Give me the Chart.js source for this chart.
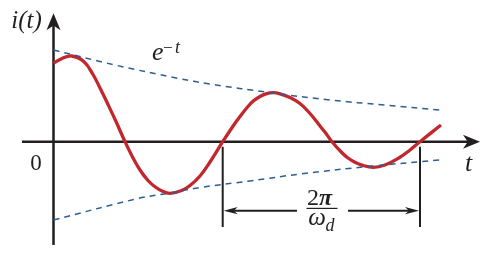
<!DOCTYPE html>
<html>
<head>
<meta charset="utf-8">
<script src="https://cdn.jsdelivr.net/npm/chart.js@4.4.1/dist/chart.umd.min.js"></script>
<style>
    html, body { margin: 0; padding: 0; background: #fff; }
    canvas { display: block; }
</style>
</head>
<body>
<canvas id="chart" width="496" height="265"></canvas>
<script>
// damped response i(t) (t and i in arbitrary units)
const curveT = [0, 0.085, 0.182, 0.305, 0.395, 0.465, 0.545, 0.625, 0.715, 0.785, 0.865, 0.945, 1.015, 1.085, 1.165,
    1.282, 1.365, 1.465, 1.565, 1.692, 1.798, 1.865, 1.932, 1.995, 2.065, 2.125, 2.198,
    2.265, 2.365, 2.465, 2.565, 2.665, 2.725, 2.785, 2.882, 2.945, 3.015, 3.085, 3.198,
    3.315, 3.445, 3.565, 3.665, 3.875];
const curveI = [0.784, 0.832, 0.857, 0.80, 0.672, 0.537, 0.372, 0.202, 0, -0.143, -0.283, -0.388, -0.451, -0.493, -0.516,
    -0.488, -0.438, -0.343, -0.203, 0, 0.16, 0.252, 0.337, 0.404, 0.452, 0.479, 0.49,
    0.479, 0.442, 0.382, 0.282, 0.157, 0.082, 0, -0.108, -0.163, -0.206, -0.235, -0.256,
    -0.233, -0.168, -0.083, 0, 0.167];

// envelopes (dashed)
const upperT = [0, 0.615, 1.245, 1.565, 2.195, 2.765, 3.315, 3.865];
const upperI = [0.917, 0.767, 0.634, 0.577, 0.487, 0.417, 0.367, 0.317];
const lowerT = [0, 0.845, 1.165, 1.465, 1.965, 2.465, 3.195, 3.865];
const lowerI = [-0.783, -0.568, -0.513, -0.458, -0.393, -0.323, -0.243, -0.183];

// period marker: between the 2nd and 4th zero crossings
const periodStart = 1.692;
const periodEnd = 3.665;

const ink = '#231f20';
const red = '#c1272d';
const blue = '#2d5e92';
const serif = '"Liberation Serif", "Times New Roman", serif';

function toPoints(xs, ys) {
    return xs.map((x, i) => ({ x: x, y: ys[i] }));
}

function arrowHead(ctx, tipX, tipY, dx, dy, len, half) {
    // notched arrow head pointing along (dx, dy)
    const nx = -dy, ny = dx;
    const bx = tipX - dx * len, by = tipY - dy * len;
    ctx.beginPath();
    ctx.moveTo(tipX, tipY);
    ctx.lineTo(bx + nx * half, by + ny * half);
    ctx.lineTo(tipX - dx * len * 0.72, tipY - dy * len * 0.72);
    ctx.lineTo(bx - nx * half, by - ny * half);
    ctx.closePath();
    ctx.fill();
}

const overlay = {
    id: 'overlay',
    beforeDatasetsDraw(chart) {
        const ctx = chart.ctx;
        const xs = chart.scales.x, ys = chart.scales.y;
        const px = v => xs.getPixelForValue(v);
        const py = v => ys.getPixelForValue(v);
        ctx.save();
        ctx.strokeStyle = ink;
        ctx.fillStyle = ink;

        // axes
        ctx.lineWidth = 2.5;
        ctx.beginPath();
        ctx.moveTo(px(-0.315), py(0));
        ctx.lineTo(px(4.17), py(0));
        ctx.moveTo(px(0), py(-1.033));
        ctx.lineTo(px(0), py(1.20));
        ctx.stroke();
        arrowHead(ctx, px(4.265), py(0), 1, 0, 17, 7);
        arrowHead(ctx, px(0), py(1.285), 0, -1, 17, 7);

        // period marker
        ctx.lineWidth = 2;
        ctx.beginPath();
        ctx.moveTo(px(periodStart), py(-0.05));
        ctx.lineTo(px(periodStart), py(-0.853));
        ctx.moveTo(px(periodEnd), py(-0.05));
        ctx.lineTo(px(periodEnd), py(-0.853));
        ctx.stroke();

        const ay = py(-0.69);
        ctx.beginPath();
        ctx.moveTo(px(periodStart) + 8, ay);
        ctx.lineTo(px(2.435), ay);
        ctx.moveTo(px(2.945), ay);
        ctx.lineTo(px(periodEnd) - 8, ay);
        ctx.stroke();
        arrowHead(ctx, px(periodStart) + 1, ay, -1, 0, 14, 3.6);
        arrowHead(ctx, px(periodEnd) - 1, ay, 1, 0, 14, 3.6);
        ctx.restore();
    },
    afterDatasetsDraw(chart) {
        const ctx = chart.ctx;
        const xs = chart.scales.x, ys = chart.scales.y;
        const px = v => xs.getPixelForValue(v);
        const py = v => ys.getPixelForValue(v);
        ctx.save();
        ctx.fillStyle = ink;
        ctx.textBaseline = 'alphabetic';

        // y label
        ctx.font = 'italic 25px ' + serif;
        ctx.textAlign = 'center';
        ctx.fillText('i(t)', px(-0.27), py(1.135));

        // origin
        ctx.font = '23px ' + serif;
        ctx.fillText('0', px(-0.175), py(-0.28));

        // x label
        ctx.font = 'italic 26px ' + serif;
        ctx.textAlign = 'left';
        ctx.fillText('t', px(4.115), py(-0.29));

        // envelope label e^-t
        ctx.font = 'italic 26px ' + serif;
        ctx.fillText('e', px(0.985), py(0.817));
        ctx.font = '17px ' + serif;
        ctx.fillText('\u2212', px(1.095), py(0.885));
        ctx.font = 'italic 18px ' + serif;
        ctx.fillText('t', px(1.215), py(0.89));

        // 2pi / omega_d
        const cx = px(2.685);
        ctx.textAlign = 'left';
        ctx.font = '24px ' + serif;
        ctx.fillText('2', cx - 15, py(-0.633));
        ctx.font = 'italic bold 24px ' + serif;
        ctx.fillText('\u03c0', cx - 3, py(-0.633));
        ctx.lineWidth = 1.2;
        ctx.strokeStyle = ink;
        ctx.beginPath();
        ctx.moveTo(cx - 15.5, py(-0.667));
        ctx.lineTo(cx + 15.5, py(-0.667));
        ctx.stroke();
        ctx.textAlign = 'center';
        ctx.font = 'italic 25px ' + serif;
        ctx.fillText('\u03c9', cx - 5, py(-0.833));
        ctx.font = 'italic 18px ' + serif;
        ctx.fillText('d', cx + 8, py(-0.893));
        ctx.restore();
    }
};

new Chart(document.getElementById('chart').getContext('2d'), {
    type: 'line',
    data: {
        datasets: [
            {
                label: 'e^-t',
                data: toPoints(upperT, upperI),
                borderColor: blue,
                borderWidth: 1.5,
                borderDash: [6, 5],
                tension: 0.4,
                pointRadius: 0
            },
            {
                label: '-e^-t',
                data: toPoints(lowerT, lowerI),
                borderColor: blue,
                borderWidth: 1.5,
                borderDash: [6, 5],
                tension: 0.4,
                pointRadius: 0
            },
            {
                label: 'i(t)',
                data: toPoints(curveT, curveI),
                borderColor: red,
                borderWidth: 3.3,
                tension: 0.4,
                pointRadius: 0
            }
        ]
    },
    options: {
        responsive: false,
        animation: false,
        layout: { padding: 0 },
        plugins: {
            legend: { display: false },
            tooltip: { enabled: false }
        },
        scales: {
            x: { type: 'linear', display: false, min: -0.535, max: 4.425 },
            y: { type: 'linear', display: false, min: -1.233, max: 1.417 }
        }
    },
    plugins: [overlay]
});
</script>
</body>
</html>
